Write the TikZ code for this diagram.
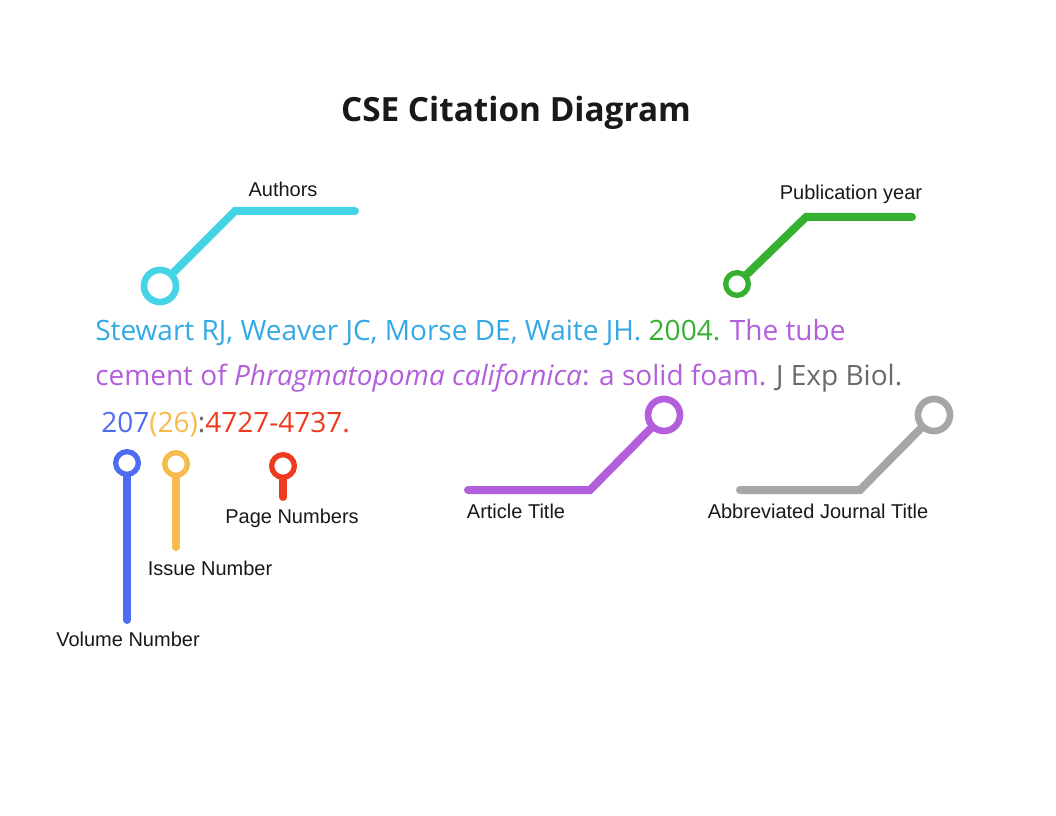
\documentclass[tikz,border=0pt]{standalone}
\usepackage{fontspec}
\setmainfont{Open Sans}
\newfontfamily\labelfont{Liberation Sans}
\definecolor{authc}{HTML}{33A9E6}
\definecolor{cyanc}{HTML}{45D4E6}
\definecolor{yearc}{HTML}{36B030}
\definecolor{titlec}{HTML}{B35FDC}
\definecolor{jourc}{HTML}{6A6A6A}
\definecolor{grayc}{HTML}{A6A6A6}
\definecolor{volc}{HTML}{4D6CF2}
\definecolor{issc}{HTML}{F7BA4D}
\definecolor{pagec}{HTML}{EE3A1E}
\tikzset{
  pin/.style={draw=#1, circle, line width=5pt, fill=white, minimum size=24pt, inner sep=0pt},
  smallpin/.style={draw=#1, circle, line width=4pt, fill=white, minimum size=17pt, inner sep=0pt},
  lead/.style={draw=#1, line width=6pt, line cap=round},
  lbl/.style={font=\labelfont\fontsize{15}{18}\selectfont, text=black!90},
  cite/.style={anchor=base west, inner sep=0pt, font=\fontsize{21}{25}\selectfont}
}
\begin{document}
\begin{tikzpicture}[x=0.75pt, y=-0.75pt]
\useasboundingbox[fill=white] (0,0) rectangle (1056,816);
\node[font=\bfseries\fontsize{25}{30}\selectfont, text=black!90] (title) at (516,113) {CSE Citation Diagram};
% citation text
\node[cite] (line1) at (95,340) {\textcolor{authc}{Stewart RJ, Weaver JC, Morse DE, Waite JH.} \textcolor{yearc}{2004.} \textcolor{titlec}{The tube}};
\node[cite] (line2) at (95,386) {\textcolor{titlec}{cement of \textit{Phragmatopoma californica}: a solid foam.} \textcolor{jourc}{J Exp Biol.}};
\node[cite] (line3) at (101,432) {\textcolor{volc}{207}\textcolor{issc}{(26)}\textcolor{jourc}{:}\textcolor{pagec}{4727-4737.}};
% authors
\node[pin=cyanc] (authpin) at (160,286) {};
\coordinate (authbend) at (235,211);
\coordinate (authend) at (355,211);
\draw[lead=cyanc] (authpin) -- (authbend) -- (authend);
\node[lbl] (authors) at (283,189) {Authors};
% year
\node[smallpin=yearc] (yearpin) at (737,284) {};
\coordinate (yearbend) at (806,217);
\coordinate (yearend) at (912,217);
\draw[lead=yearc] (yearpin) -- (yearbend) -- (yearend);
\node[lbl] (year) at (851,194) {Publication year};
% article title
\node[pin=titlec] (titlepin) at (664,415) {};
\coordinate (titlebend) at (590,490);
\coordinate (titleend) at (468,490);
\draw[lead=titlec] (titlepin) -- (titlebend) -- (titleend);
\node[lbl] (article) at (516,511) {Article Title};
% journal
\node[pin=grayc] (jourpin) at (934,415) {};
\coordinate (jourbend) at (860,490);
\coordinate (jourend) at (740,490);
\draw[lead=grayc] (jourpin) -- (jourbend) -- (jourend);
\node[lbl] (journal) at (818,511) {Abbreviated Journal Title};
% volume, issue, pages
\node[smallpin=volc] (volpin) at (127,463) {};
\coordinate (volend) at (127,620);
\draw[lead=volc] (volpin) -- (volend);
\node[lbl] (volume) at (128,639) {Volume Number};
\node[smallpin=issc] (isspin) at (176,464) {};
\coordinate (issend) at (176,547);
\draw[lead=issc] (isspin) -- (issend);
\node[lbl] (issue) at (210,568) {Issue Number};
\node[smallpin=pagec] (pagepin) at (283,466) {};
\coordinate (pageend) at (283,497);
\draw[lead=pagec] (pagepin) -- (pageend);
\node[lbl] (pages) at (292,518) {Page Numbers};
\end{tikzpicture}
\end{document}
